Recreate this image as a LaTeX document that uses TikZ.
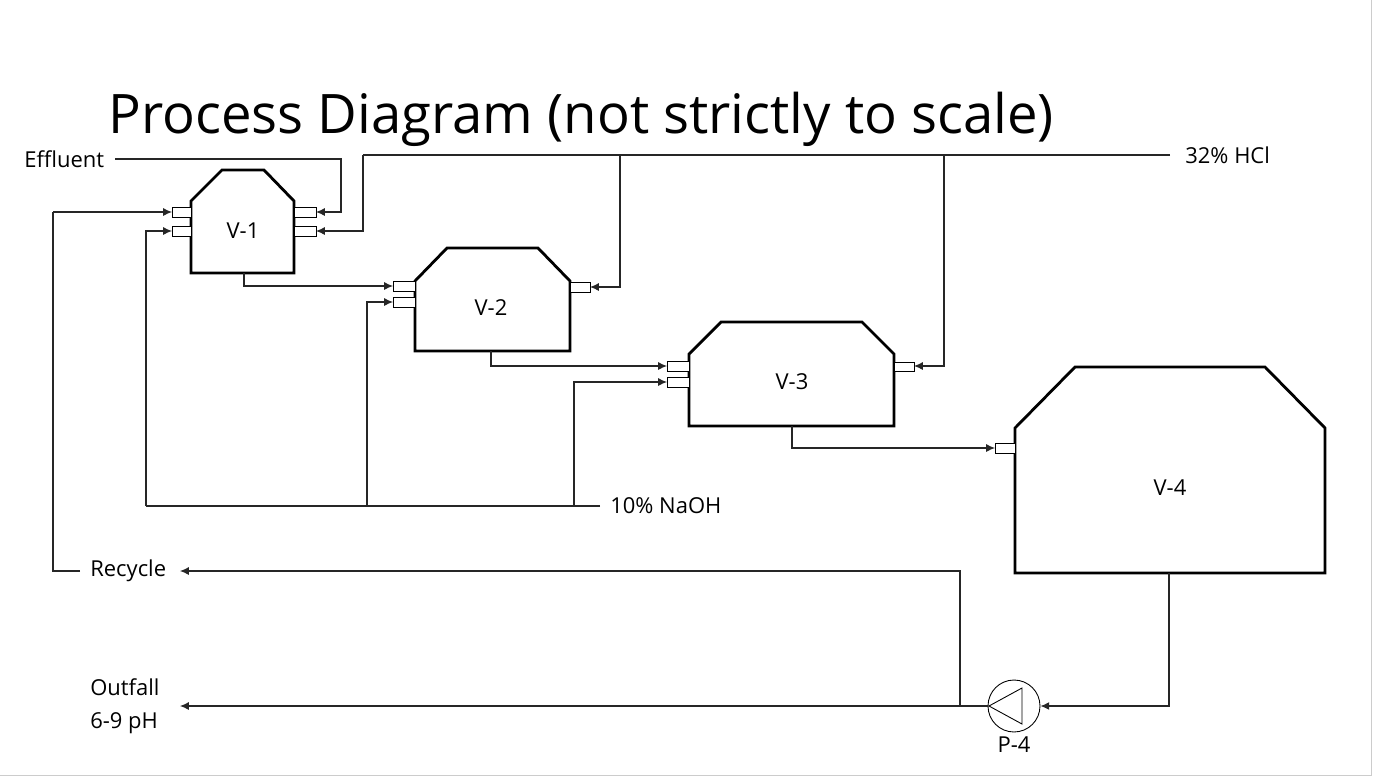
\documentclass[tikz,border=0pt]{standalone}
\usepackage{fontspec}
\setmainfont{Open Sans}
\usetikzlibrary{arrows.meta}
\begin{document}
\begin{tikzpicture}[x=0.02cm,y=-0.02cm,
  vessel/.style={line width=1.6pt,line join=miter},
  noz/.style={draw,line width=0.5pt,fill=white},
  pipe/.style={line width=0.6pt,draw=black!85},
  arr/.style={pipe,-{Latex[length=5pt,width=4.5pt]}},
  lbl/.style={font=\fontsize{12.5pt}{15pt}\selectfont,inner sep=0pt}]
\useasboundingbox (0,0) rectangle (1373,778);
\draw[black!20] (1371,0) -- (1371,775) -- (0,775);
\node[anchor=base west,inner sep=0pt,font=\fontsize{31pt}{36pt}\selectfont] (title) at (108,133) {Process Diagram (not strictly to scale)};
% vessels
\draw[vessel] (191,273) -- (191,201) -- (222,170) -- (264,170) -- (294,201) -- (294,273) -- cycle;
\node[lbl] (v1) at (243,231) {V-1};
\draw[vessel] (415,351) -- (415,281) -- (447,248) -- (538,248) -- (570,281) -- (570,351) -- cycle;
\node[lbl] (v2) at (491,308) {V-2};
\draw[vessel] (689,426) -- (689,354) -- (721,322) -- (862,322) -- (894,354) -- (894,426) -- cycle;
\node[lbl] (v3) at (792,382) {V-3};
\draw[vessel] (1015,573) -- (1015,428) -- (1075,367) -- (1265,367) -- (1325,428) -- (1325,573) -- cycle;
\node[lbl] (v4) at (1170,488) {V-4};
% nozzles
\draw[noz] (172,207) rectangle (191,217); \coordinate (n1a) at (172,212);
\draw[noz] (172,226) rectangle (191,236); \coordinate (n1b) at (172,231);
\draw[noz] (294,207) rectangle (316,217); \coordinate (n1c) at (316,212);
\draw[noz] (294,226) rectangle (316,236); \coordinate (n1d) at (316,231);
\draw[noz] (393,281) rectangle (415,291); \coordinate (n2a) at (393,286);
\draw[noz] (393,297) rectangle (415,307); \coordinate (n2b) at (393,302);
\draw[noz] (570,282) rectangle (590,292); \coordinate (n2c) at (590,287);
\draw[noz] (667,361) rectangle (689,371); \coordinate (n3a) at (667,366);
\draw[noz] (667,377) rectangle (689,387); \coordinate (n3b) at (667,382);
\draw[noz] (894,362) rectangle (914,371); \coordinate (n3c) at (914,366);
\draw[noz] (995,443) rectangle (1015,453); \coordinate (n4a) at (995,448);
% outlets
\coordinate (o1) at (244,273); \coordinate (o2) at (491,351);
\coordinate (o3) at (792,426); \coordinate (o4) at (1169,573);
\draw[arr] (o1) |- (n2a);
\draw[arr] (o2) |- (n3a);
\draw[arr] (o3) |- (n4a);
% pump
\node[draw,circle,minimum size=1.04cm,inner sep=0pt,line width=0.5pt] (p4) at (1014,706) {};
\draw[line width=0.5pt] (989,706) -- (1022,688) -- (1022,724) -- cycle;
\node[lbl,anchor=north] (p4l) at (1014,736) {P-4};
\draw[arr] (o4) |- (p4.east);
% outfall & recycle
\node[lbl,anchor=west,align=left] (outfall) at (90,706) {Outfall\\[4pt]6-9 pH};
\draw[arr] (p4.west) -- (180,706);
\node[lbl,anchor=west] (recycle) at (90,571) {Recycle};
\draw[arr] (960,706) -- (960,571) -- (180,571);
\draw[pipe] (80,571) -| (53,212);
\draw[arr] (53,212) -- (n1a);
% effluent
\node[lbl,anchor=west] (eff) at (24,159) {Effluent};
\draw[arr] (115,159) -| (341,212) -- (n1c);
% HCl
\node[lbl,anchor=west] (hcl) at (1185,155) {32\% HCl};
\draw[pipe] (1170,155) -- (363,155);
\draw[arr] (363,155) |- (n1d);
\draw[arr] (620,155) |- (n2c);
\draw[arr] (944,155) |- (n3c);
% NaOH
\node[lbl,anchor=west] (naoh) at (610,506) {10\% NaOH};
\draw[pipe] (600,506) -- (146,506);
\draw[arr] (146,506) |- (n1b);
\draw[arr] (367,506) |- (n2b);
\draw[arr] (574,506) |- (n3b);
\end{tikzpicture}
\end{document}
